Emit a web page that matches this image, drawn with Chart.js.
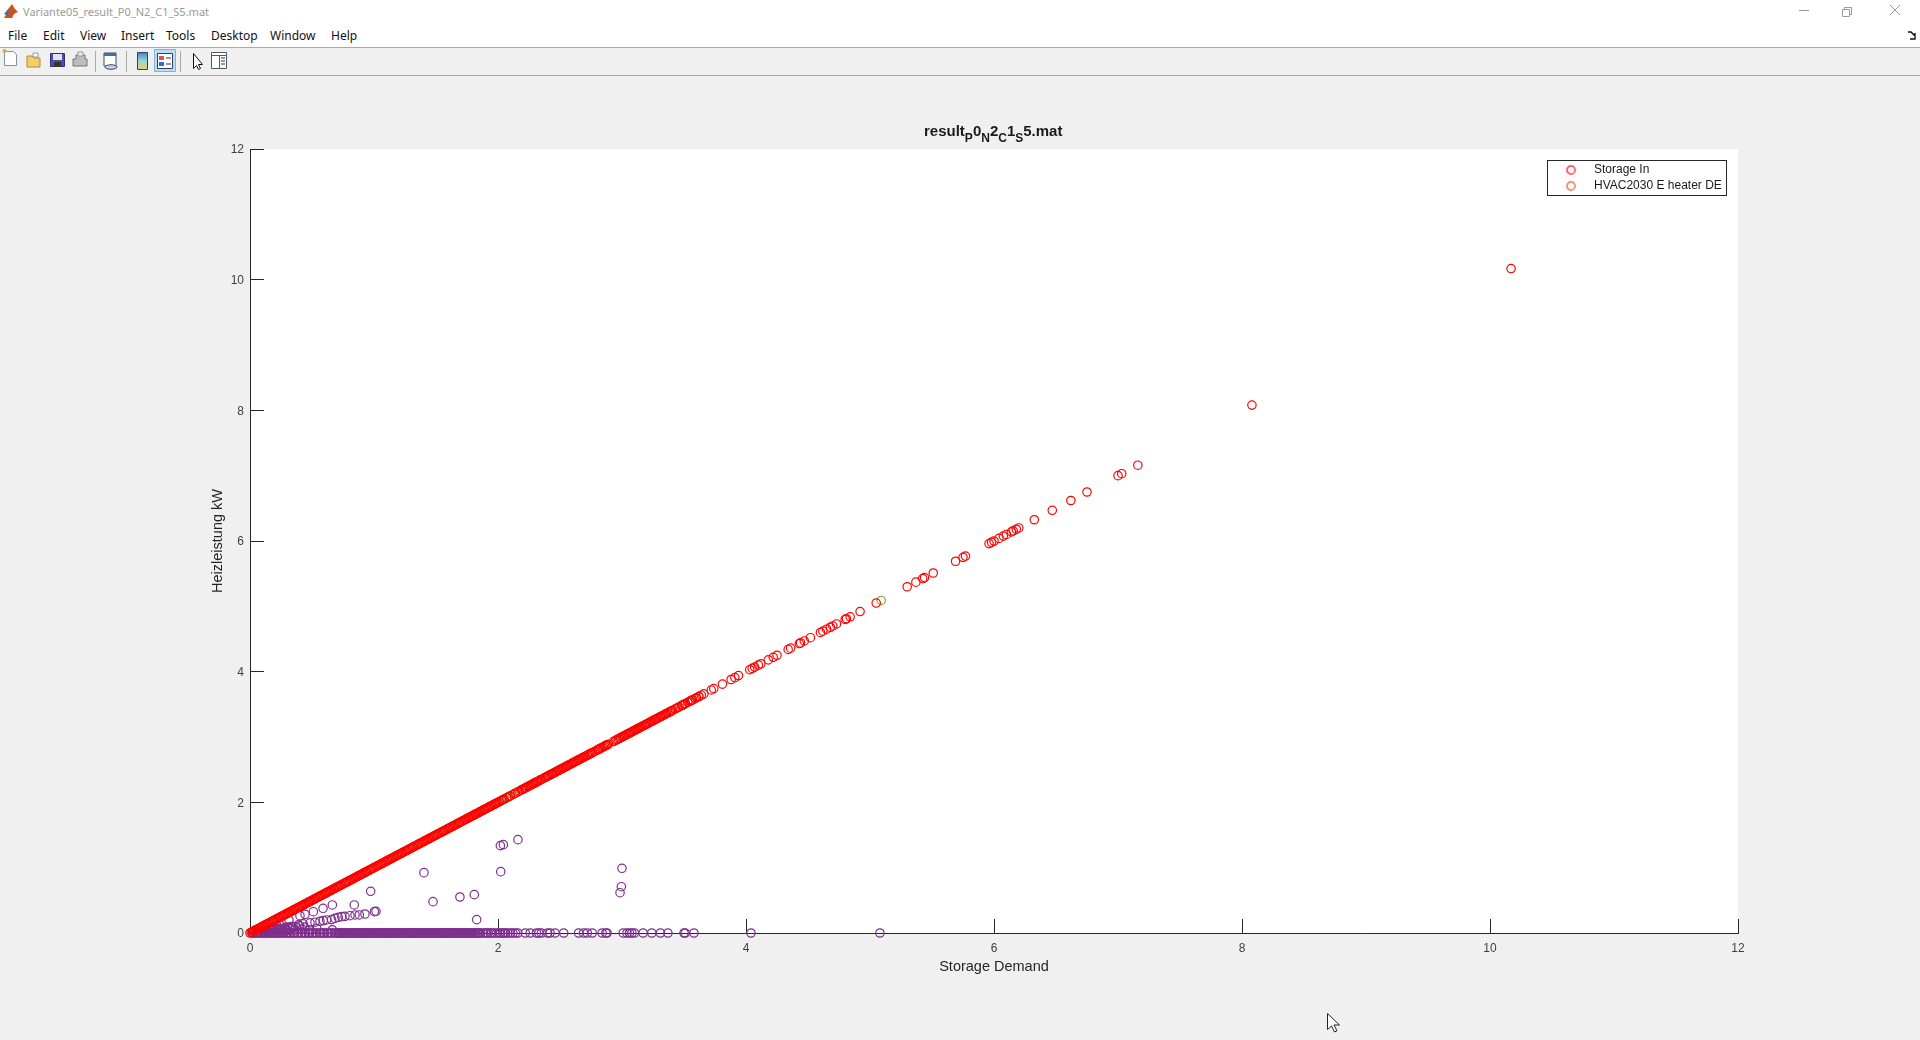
<!DOCTYPE html>
<html><head><meta charset="utf-8">
<script src="https://cdn.jsdelivr.net/npm/chart.js@4/dist/chart.umd.min.js"></script>
<style>
html,body{margin:0;padding:0;width:1920px;height:1040px;overflow:hidden;background:#f0f0f0;font-family:"Liberation Sans",Arial,sans-serif}
#c{position:absolute;left:0;top:0}
#head{position:absolute;left:0;top:0;width:1920px;height:48px;background:#fff;border-bottom:1px solid #a9a9a9;box-sizing:border-box}
#tool{position:absolute;left:0;top:48px;width:1920px;height:28px;background:#f0f0f0;border-bottom:1px solid #a9a9a9;box-sizing:border-box}
.t{position:absolute;white-space:nowrap}
.m{position:absolute;top:28px;font:12px "Noto Sans",sans-serif;color:#111;line-height:16px}
#title{position:absolute;left:924px;top:123px;font:bold 15px "Liberation Sans",Arial,sans-serif;color:#1a1a1a;white-space:nowrap;line-height:16px}
#title sub{font-size:12px;vertical-align:-6px;line-height:0}
svg{position:absolute;overflow:visible}
</style></head><body>
<canvas id="c" width="1920" height="1040"></canvas>
<div id="head">
<svg style="left:3px;top:3px" width="16" height="16" viewBox="0 0 16 16"><path d="M1 15 6 5l3-4 3 5 3 3-4 2-2 4z" fill="#c8561b"/><path d="M6 5 1 11l4 1z" fill="#3c6ea8"/></svg>
<div class="t" style="left:23px;top:4px;font:11px 'Noto Sans',sans-serif;color:#9a9a9a;line-height:16px">Variante05_result_P0_N2_C1_S5.mat</div>
<div class="m" style="left:8px">File</div><div class="m" style="left:43px">Edit</div><div class="m" style="left:80px">View</div><div class="m" style="left:121px">Insert</div><div class="m" style="left:166px">Tools</div><div class="m" style="left:211px">Desktop</div><div class="m" style="left:270px">Window</div><div class="m" style="left:331px">Help</div>
<svg style="left:1799px;top:5px" width="110" height="14" viewBox="0 0 110 14" fill="none" stroke="#9a9a9a"><path d="M0 5.500H10"/><path d="M45.500 2.500h7v7h-2M45.500 2.500v2M43.500 4.500h7v7h-7z"/><path d="M91 0l10 10M101 0 91 10"/></svg>
<svg style="left:1908px;top:32px" width="8" height="8" viewBox="0 0 8 8"><path d="M0 0h3l4 4V1v6H2" fill="none" stroke="#111" stroke-width="1.400"/></svg>
</div>
<div id="tool">
<svg style="left:0;top:-1px" width="240" height="27" viewBox="0 0 240 27">
<path d="M4.500 4.500h9l3 3v11h-12z" fill="#fff" stroke="#7f93ad"/><circle cx="4.500" cy="4" r="2" fill="#e8a33c"/>
<path d="M27 9h5l2 2h6v9H27z" fill="#f4cf67" stroke="#b08a2e"/><path d="M33 6h5v4h-5z" fill="#fff" stroke="#999"/>
<path d="M50.500 6.500h14v13h-14z" fill="#4c4fa8" stroke="#2d2f77"/><path d="M53 7h9v6h-9z" fill="#dfe3f5"/><path d="M54 15h7v5h-7z" fill="#333"/>
<path d="M76 8h9v4h2v7H73v-7h3z" fill="#bdbdbd" stroke="#777"/><path d="M78 5h5v4h-5z" fill="#eee" stroke="#999"/>
<path d="M95.500 4v21M126.500 4v21M180.500 4v21" stroke="#a9a9a9" fill="none"/>
<path d="M104 6h12v13h-12z" fill="#fff" stroke="#33506f"/><path d="M104 6h12v3h-12z" fill="#486c96"/><path d="M105 20c0-3 12-3 12 0s-12 3-12 0z" fill="#ccd" stroke="#33506f"/>
<defs><linearGradient id="g" x1="0" y1="0" x2="0" y2="1"><stop offset="0" stop-color="#4b7bd0"/><stop offset=".5" stop-color="#96dccf"/><stop offset="1" stop-color="#f2c77e"/></linearGradient></defs>
<path d="M137.500 5.500h10v17h-10z" fill="url(#g)" stroke="#33405f"/>
<path d="M154.500 2.500h21v22h-21z" fill="#bcdcf4" stroke="#7db4dc"/><path d="M157.500 6.500h15v15h-15z" fill="#fff" stroke="#33405f"/><path d="M159 9h5v4h-5z" fill="#e0524f"/><path d="M159 15h5v4h-5z" fill="#4b62c8"/><path d="M166 11h5M166 17h5" stroke="#333"/>
<path d="M193.500 6.500v15l3-3 2 4 2-1-2-4h4z" fill="#fff" stroke="#111"/>
<path d="M211.500 5.500h15v16h-15zM211.500 8.500h15M219.500 8.500v13" fill="#fff" stroke="#4a5a6a"/><path d="M221 11h4M221 14h4M221 17h4" stroke="#333"/>
</svg>
</div>
<div id="title">result<sub>P</sub>0<sub>N</sub>2<sub>C</sub>1<sub>S</sub>5.mat</div>
<svg style="left:1327px;top:1013px" width="13" height="20" viewBox="0 0 13 20"><path d="M.5.500v16l4-3.500 3 6 2.500-1.200-3-5.800h5.500z" fill="#fff" stroke="#222"/></svg>
<script>
const xTicks = [0, 2, 4, 6, 8, 10, 12];
const yTicks = [0, 2, 4, 6, 8, 10, 12];
const seriesNames = ['Storage In', 'HVAC2030 E heater DE', 'HVAC2030 Heat Pump', 'HVAC2030 Other'];

const redX = [0,.01,.02,.03,.04,.05,.06,.07,.08,.09,.1,.11,.12,.13,.14,.15,.16,.17,.18,.19,.2,.21,.22,.23,.24,.25,.26,.27,.28,.29,.3,.31,.32,.33,.34,.35,.36,.37,.38,.39,.4,.41,.42,.43,.44,.45,.46,.47,.48,.49,.5,.51,.52,.53,.54,.55,.56,.57,.58,.59,.6,.61,.62,.63,.64,.65,.66,.67,.68,.69,.7,.71,.72,.73,.74,.76,.77,.78,.79,.8,.81,.82,.83,.84,.85,.86,.87,.88,.89,.9,.91,.92,.93,.94,.95,.96,.97,.98,.99,1,1.02,1.03,1.04,1.05,1.06,1.07,1.08,1.09,1.1,1.11,1.12,1.13,1.14,1.15,1.16,1.17,1.18,1.19,1.2,1.21,1.22,1.23,1.25,1.26,1.27,1.28,1.29,1.3,1.31,1.32,1.34,1.35,1.36,1.37,1.38,1.39,1.4,1.41,1.42,1.43,1.44,1.45,1.46,1.47,1.48,1.49,1.5,1.51,1.52,1.54,1.55,1.56,1.57,1.58,1.59,1.6,1.61,1.62,1.63,1.64,1.65,1.66,1.67,1.68,1.69,1.7,1.71,1.72,1.73,1.74,1.75,1.76,1.77,1.78,1.79,1.8,1.81,1.82,1.83,1.84,1.85,1.86,1.87,1.88,1.89,1.9,1.91,1.92,1.93,1.94,1.95,1.96,1.97,1.98,1.99,2,2.01,2.03,2.04,2.05,2.07,2.09,2.1,2.13,2.14,2.16,2.17,2.19,2.2,2.21,2.23,2.24,2.25,2.27,2.28,2.3,2.31,2.33,2.34,2.37,2.39,2.41,2.43,2.44,2.46,2.48,2.49,2.51,2.53,2.54,2.57,2.6,2.62,2.65,2.67,2.7,2.73,2.76,2.81,2.83,2.86,2.88,2.95,2.98,3.01,3.04,3.06,3.09,3.12,3.16,3.19,3.21,3.24,3.27,3.29,3.32,3.35,3.37,3.4,3.45,3.48,3.51,3.55,3.59,3.62,3.66,3.72,3.74,3.81,3.88,3.91,3.94,4.03,4.05,4.07,4.1,4.12,4.18,4.22,4.25,4.34,4.36,4.43,4.44,4.47,4.52,4.6,4.62,4.65,4.68,4.7,4.73,4.8,4.81,4.84,4.92,5.05,5.3,5.37,5.425,5.44,5.51,5.69,5.75,5.77,5.96,5.98,6,6.04,6.075,6.1,6.14,6.155,6.18,6.2,6.325,6.47,6.62,6.75,7,7.03,7.16,8.08,10.17,2.22,2.26,2.29,2.32,2.35,2.38,2.4,2.42,2.45,2.47,2.5,2.52,2.55,2.56,2.58,2.59,2.61,2.63,2.64,2.66,2.68,2.69,2.71,2.72,2.74,2.75,2.78,2.8,2.82,2.84,2.85,2.87,2.89,2.93,2.96,2.97,2.99,3,3.02,3.03,3.05,3.07,3.08,3.1,3.11,3.13,3.14,3.15,3.17,3.18,3.2,3.22,3.23,3.25,3.26,3.28,3.3,3.31,3.33,3.34,3.36,3.38,3.39,3.41,3.43,3.46,3.49,3.5,3.53,3.56,3.57,3.6,3.64];
const redY = [0,.01,.02,.03,.04,.05,.06,.07,.08,.09,.1,.11,.12,.13,.14,.15,.16,.17,.18,.19,.2,.21,.22,.23,.24,.25,.26,.27,.28,.29,.3,.31,.32,.33,.34,.35,.36,.37,.38,.39,.4,.41,.42,.43,.44,.45,.46,.47,.48,.49,.5,.51,.52,.53,.54,.55,.56,.57,.58,.59,.6,.61,.62,.63,.64,.65,.66,.67,.68,.69,.7,.71,.72,.73,.74,.76,.77,.78,.79,.8,.81,.82,.83,.84,.85,.86,.87,.88,.89,.9,.91,.92,.93,.94,.95,.96,.97,.98,.99,1,1.02,1.03,1.04,1.05,1.06,1.07,1.08,1.09,1.1,1.11,1.12,1.13,1.14,1.15,1.16,1.17,1.18,1.19,1.2,1.21,1.22,1.23,1.25,1.26,1.27,1.28,1.29,1.3,1.31,1.32,1.34,1.35,1.36,1.37,1.38,1.39,1.4,1.41,1.42,1.43,1.44,1.45,1.46,1.47,1.48,1.49,1.5,1.51,1.52,1.54,1.55,1.56,1.57,1.58,1.59,1.6,1.61,1.62,1.63,1.64,1.65,1.66,1.67,1.68,1.69,1.7,1.71,1.72,1.73,1.74,1.75,1.76,1.77,1.78,1.79,1.8,1.81,1.82,1.83,1.84,1.85,1.86,1.87,1.88,1.89,1.9,1.91,1.92,1.93,1.94,1.95,1.96,1.97,1.98,1.99,2,2.01,2.03,2.04,2.05,2.07,2.09,2.1,2.13,2.14,2.16,2.17,2.19,2.2,2.21,2.23,2.24,2.25,2.27,2.28,2.3,2.31,2.33,2.34,2.37,2.39,2.41,2.43,2.44,2.46,2.48,2.49,2.51,2.53,2.54,2.57,2.6,2.62,2.65,2.67,2.7,2.73,2.76,2.81,2.83,2.86,2.88,2.95,2.98,3.01,3.04,3.06,3.09,3.12,3.16,3.19,3.21,3.24,3.27,3.29,3.32,3.35,3.37,3.4,3.45,3.48,3.51,3.55,3.59,3.62,3.66,3.72,3.74,3.81,3.88,3.91,3.94,4.03,4.05,4.07,4.1,4.12,4.18,4.22,4.25,4.34,4.36,4.43,4.44,4.47,4.52,4.6,4.62,4.65,4.68,4.7,4.73,4.8,4.81,4.84,4.92,5.05,5.3,5.37,5.425,5.44,5.51,5.69,5.75,5.77,5.96,5.98,6,6.04,6.075,6.1,6.14,6.155,6.18,6.2,6.325,6.47,6.62,6.75,7,7.03,7.16,8.08,10.17,2.22,2.26,2.29,2.32,2.35,2.38,2.4,2.42,2.45,2.47,2.5,2.52,2.55,2.56,2.58,2.59,2.61,2.63,2.64,2.66,2.68,2.69,2.71,2.72,2.74,2.75,2.78,2.8,2.82,2.84,2.85,2.87,2.89,2.93,2.96,2.97,2.99,3,3.02,3.03,3.05,3.07,3.08,3.1,3.11,3.13,3.14,3.15,3.17,3.18,3.2,3.22,3.23,3.25,3.26,3.28,3.3,3.31,3.33,3.34,3.36,3.38,3.39,3.41,3.43,3.46,3.49,3.5,3.53,3.56,3.57,3.6,3.64];

const greenX = [.11,.19,.34,.47,.62,.75,.9,1.01,1.12,1.24,1.33,1.53,1.68,1.83,2.02,2.08,2.12,2.29,2.35,2.41,2.49,2.53,2.65,2.76,2.88,3.01,3.12,3.48,3.55,3.62,5.09];
const greenY = [.11,.19,.34,.47,.62,.75,.9,1.01,1.12,1.24,1.33,1.53,1.68,1.83,2.02,2.08,2.12,2.29,2.35,2.41,2.49,2.53,2.65,2.76,2.88,3.01,3.12,3.48,3.55,3.62,5.09];

const orangeX = [.05,.12,.2,.31,.44,.58,.72,.9,1.1,1.3,1.55];
const orangeY = [0,0,0,0,0,0,0,0,0,0,0];

const purpleRowX = [.02,.03,.05,.06,.08,.09,.11,.12,.14,.15,.17,.18,.2,.21,.23,.24,.26,.27,.29,.3,.32,.33,.35,.36,.38,.39,.41,.42,.44,.45,.47,.48,.5,.51,.53,.54,.56,.57,.59,.6,.62,.63,.65,.66,.68,.69,.71,.72,.74,.75,.77,.78,.8,.81,.83,.84,.86,.87,.89,.9,.92,.93,.95,.96,.98,.99,1.01,1.02,1.04,1.05,1.07,1.08,1.1,1.11,1.13,1.14,1.16,1.17,1.19,1.2,1.22,1.23,1.25,1.27,1.28,1.3,1.31,1.33,1.35,1.36,1.38,1.39,1.41,1.43,1.44,1.46,1.47,1.49,1.5,1.52,1.54,1.56,1.58,1.6,1.62,1.63,1.65,1.67,1.69,1.71,1.74,1.76,1.78,1.8,1.81,1.83,1.85,1.88,1.9,1.94,1.97,2.01,2.04,2.06,2.08,2.1,2.12,2.14,2.16,2.22,2.26,2.31,2.33,2.35,2.4,2.42,2.46,2.53,2.65,2.69,2.72,2.76,2.84,2.87,2.88,3.01,3.04,3.06,3.08,3.1,3.17,3.24,3.31,3.37,3.5,3.51,3.58,4.04,5.08,.7,.73,.76,.79,.82,.85,.88,.91,.94,.97,1,1.03,1.06,1.09,1.12,1.15,1.18,1.21,1.24,1.26,1.29,1.32,1.34,1.37,1.4,1.42,1.45,1.48,1.51,1.53,1.55,1.57,1.59,1.61,1.64,1.66,1.68,1.7,1.72,1.73,1.75,1.77,1.79,1.82,1.84,1.86,1.91,1.92,1.95,1.99,2.02,2.05];
const purpleX = [2.161,2.043,2.019,2.022,3,2.995,2.984,1.403,1.476,1.693,1.809,1.828,.973,.841,.664,.589,.511,.444,.403,.314,1.016,1.003,.927,.882,.847,.806,.766,.74,.712,.685,.658,.618,.591,.564,.524,.484,.43,.39,.349,.664,.538,.484,.42,.37,.33,.3,.28,.25,.22,.19,.16,.13,.1,.08,.06,.3,.27,.24,.21,.18,.15,.12,.22,.25,.18,.36,.44,.4,.34,.32,.29,.26,.23,.2,.17,.14,.11,.09,.07,.05];
const purpleY = [1.429,1.352,1.337,.939,.99,.709,.617,.924,.48,.551,.587,.204,.638,.429,.429,.378,.326,.286,.265,.199,.332,.327,.291,.276,.276,.265,.255,.25,.24,.225,.205,.2,.19,.18,.165,.155,.14,.125,.1,.05,.07,.05,.06,.09,.1,.09,.08,.07,.06,.05,.05,.03,.03,.02,.01,.04,.03,.03,.03,.03,.02,.02,.1,.11,.08,.05,.09,.11,.09,.07,.06,.05,.07,.08,.06,.04,.03,.02,.02,.01];

const toPts = (xs, ys) => xs.map((x, i) => ({ x, y: ys[i] }));
const ring = (color) => ({ showLine:false, borderColor:color, backgroundColor:'transparent', pointBackgroundColor:'transparent', pointBorderColor:color, pointBorderWidth:1.2, borderWidth:1.2, pointRadius:4.2, pointStyle:'circle', clip:false });
const axisColor = '#262626', labelColor = '#404040';

const marker = (color) => {
  const m = document.createElement('canvas'); m.width = 11; m.height = 11;
  const g = m.getContext('2d'); g.strokeStyle = color; g.lineWidth = 1.2;
  g.beginPath(); g.arc(5.5, 5.5, 4.1, 0, Math.PI*2); g.stroke();
  return m;
};

const legendBox = {
  id:'legendBox',
  beforeDraw(chart){
    const a = chart.chartArea, c = chart.ctx;
    c.save(); c.fillStyle = '#fff'; c.fillRect(a.left, a.top, a.right-a.left, a.bottom-a.top); c.restore();
  },
  afterLayout(chart){
    const l = chart.legend;
    l.left = 1550; l.right = 1730; l.top = 160; l.bottom = 220; l.width = 180; l.height = 60;
  },
  afterDraw(chart){
    const c = chart.ctx;
    c.save(); c.strokeStyle = '#262626'; c.lineWidth = 1; c.strokeRect(1547.5, 160.5, 179, 35); c.restore();
  }
};

new Chart(document.getElementById('c'), {
  type:'scatter',
  data:{ datasets:[
    { label:seriesNames[0], data:toPts(redX, redY), order:0, ...ring('#ff0000') },
    { label:seriesNames[1], data:toPts(orangeX, orangeY), order:3, ...ring('#d95319') },
    { label:seriesNames[2], data:toPts(greenX, greenY), order:2, ...ring('#77ac30') },
    { label:seriesNames[3], data:[...toPts(purpleRowX, purpleRowX.map(() => 0)), ...toPts(purpleX, purpleY)], order:1, ...ring('#7e2f8e') }
  ]},
  options:{
    responsive:false, animation:false, events:[],
    layout:{ padding:{ left:209, right:182, top:149, bottom:64 } },
    plugins:{
      title:{display:false}, tooltip:{enabled:false},
      legend:{ display:true, position:'chartArea', align:'start',
        labels:{ usePointStyle:true, pointStyleWidth:34, boxWidth:12, boxHeight:12, padding:4, color:'#1a1a1a',
          font:{ family:'"Liberation Sans",Arial,sans-serif', size:12 },
          generateLabels:(chart) => Chart.defaults.plugins.legend.labels.generateLabels(chart)
            .filter((item) => item.datasetIndex < 2)
            .map((item) => ({ ...item, pointStyle:marker(item.strokeStyle) })) } }
    },
    scales:{
      x:{ type:'linear', min:0, max:12, afterBuildTicks:(s) => { s.ticks = xTicks.map(v => ({value:v})); },
        afterFit:(s) => { s.height = 43; },
        border:{ display:true, color:axisColor, width:1 },
        grid:{ drawOnChartArea:false, drawTicks:true, tickLength:-14, tickColor:axisColor, tickWidth:1 },
        ticks:{ color:labelColor, padding:22, maxRotation:0, font:{ family:'"Liberation Sans",Arial,sans-serif', size:12 } },
        title:{ display:true, text:'Storage Demand', color:'#262626', padding:{top:0,bottom:0}, font:{ family:'"Liberation Sans",Arial,sans-serif', size:14.5 } } },
      y:{ type:'linear', min:0, max:12, afterBuildTicks:(s) => { s.ticks = yTicks.map(v => ({value:v})); },
        afterFit:(s) => { s.width = 41; },
        border:{ display:true, color:axisColor, width:1 },
        grid:{ drawOnChartArea:false, drawTicks:true, tickLength:-14, tickColor:axisColor, tickWidth:1 },
        ticks:{ color:labelColor, padding:20, labelOffset:1, font:{ family:'"Liberation Sans",Arial,sans-serif', size:12 } },
        title:{ display:true, text:'Heizleistung kW', color:'#262626', padding:{top:0,bottom:0}, font:{ family:'"Liberation Sans",Arial,sans-serif', size:14.5 } } }
    }
  },
  plugins:[legendBox]
});
</script>
</body></html>
